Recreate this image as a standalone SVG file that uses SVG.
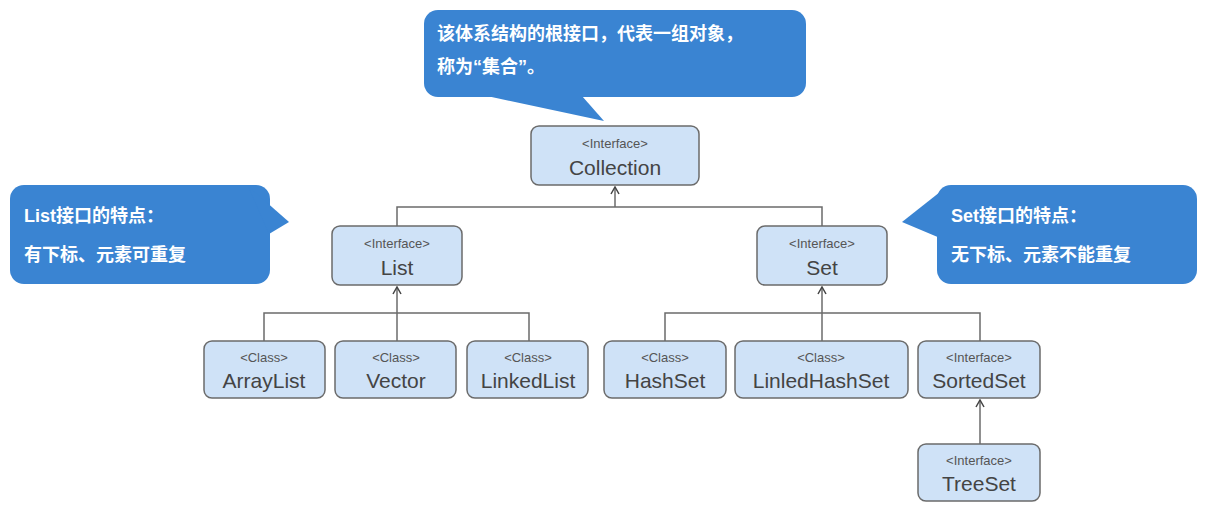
<svg xmlns="http://www.w3.org/2000/svg" width="1224" height="528" viewBox="0 0 1224 528">
<style>
.box{fill:#cfe2f7;stroke:#6b6b6b;stroke-width:1.5}
.st{font-family:"Liberation Sans",Arial,sans-serif;font-size:13px;fill:#555;text-anchor:middle}
.nm{font-family:"Liberation Sans",Arial,sans-serif;font-size:21px;fill:#444;text-anchor:middle}
.bub{fill:#3a84d2}
.bt{font-family:"Liberation Sans","Noto Sans CJK SC",sans-serif;font-size:18px;font-weight:bold;fill:#fff}
.ln{fill:none;stroke:#6b6b6b;stroke-width:1.5}
</style>
<defs><marker id="ar" markerWidth="10" markerHeight="10" refX="9" refY="5" orient="auto" markerUnits="userSpaceOnUse" viewBox="0 0 10 10"><path d="M2,1 L9,5 L2,9" fill="none" stroke="#444" stroke-width="1.5"/></marker></defs>
<rect width="1224" height="528" fill="#fff"/>
<g id="connectors">
<path class="ln" d="M397,226 V207 H822 V226"/>
<path class="ln" d="M615,207 V187" marker-end="url(#ar)"/>
<path class="ln" d="M264,341 V313 H529 V341"/>
<path class="ln" d="M397,341 V287" marker-end="url(#ar)"/>
<path class="ln" d="M665,341 V313 H980 V341"/>
<path class="ln" d="M822,341 V287" marker-end="url(#ar)"/>
<path class="ln" d="M980,444 V400" marker-end="url(#ar)"/>
</g>
<g id="bubble-top"><rect class="bub" x="424" y="10" width="382" height="87" rx="14"/><path class="bub" d="M487,96 L604,121 L582,96 Z"/>
<text class="bt" x="437" y="40">该体系结构的根接口，代表一组对象，</text><text class="bt" x="437" y="73">称为“集合”。</text></g>
<g id="bubble-left"><rect class="bub" x="10" y="185" width="260" height="99" rx="14"/><path class="bub" d="M248,186 L289,222 L269,234 Z"/>
<text class="bt" x="24" y="222">List接口的特点：</text><text class="bt" x="24" y="261">有下标、元素可重复</text></g>
<g id="bubble-right"><rect class="bub" x="937" y="185" width="260" height="99" rx="14"/><path class="bub" d="M940,192 L902,222 L940,238 Z"/>
<text class="bt" x="951" y="222">Set接口的特点：</text><text class="bt" x="951" y="261">无下标、元素不能重复</text></g>
<g id="Collection"><rect class="box" x="531" y="126" width="168" height="59" rx="8"/><text class="st" x="615" y="148">&lt;Interface&gt;</text><text class="nm" x="615" y="175">Collection</text></g>
<g id="List"><rect class="box" x="332" y="226" width="130" height="59" rx="8"/><text class="st" x="397" y="248">&lt;Interface&gt;</text><text class="nm" x="397" y="275">List</text></g>
<g id="Set"><rect class="box" x="757" y="226" width="130" height="59" rx="8"/><text class="st" x="822" y="248">&lt;Interface&gt;</text><text class="nm" x="822" y="275">Set</text></g>
<g id="ArrayList"><rect class="box" x="204" y="341" width="121" height="57" rx="8"/><text class="st" x="264" y="362">&lt;Class&gt;</text><text class="nm" x="264" y="388">ArrayList</text></g>
<g id="Vector"><rect class="box" x="335" y="341" width="121" height="57" rx="8"/><text class="st" x="396" y="362">&lt;Class&gt;</text><text class="nm" x="396" y="388">Vector</text></g>
<g id="LinkedList"><rect class="box" x="467" y="341" width="121" height="57" rx="8"/><text class="st" x="528" y="362">&lt;Class&gt;</text><text class="nm" x="528" y="388">LinkedList</text></g>
<g id="HashSet"><rect class="box" x="604" y="341" width="122" height="57" rx="8"/><text class="st" x="665" y="362">&lt;Class&gt;</text><text class="nm" x="665" y="388">HashSet</text></g>
<g id="LinledHashSet"><rect class="box" x="735" y="341" width="173" height="57" rx="8"/><text class="st" x="821" y="362">&lt;Class&gt;</text><text class="nm" x="821" y="388">LinledHashSet</text></g>
<g id="SortedSet"><rect class="box" x="918" y="341" width="122" height="57" rx="8"/><text class="st" x="979" y="362">&lt;Interface&gt;</text><text class="nm" x="979" y="388">SortedSet</text></g>
<g id="TreeSet"><rect class="box" x="918" y="444" width="122" height="57" rx="8"/><text class="st" x="979" y="465">&lt;Interface&gt;</text><text class="nm" x="979" y="491">TreeSet</text></g>
</svg>
